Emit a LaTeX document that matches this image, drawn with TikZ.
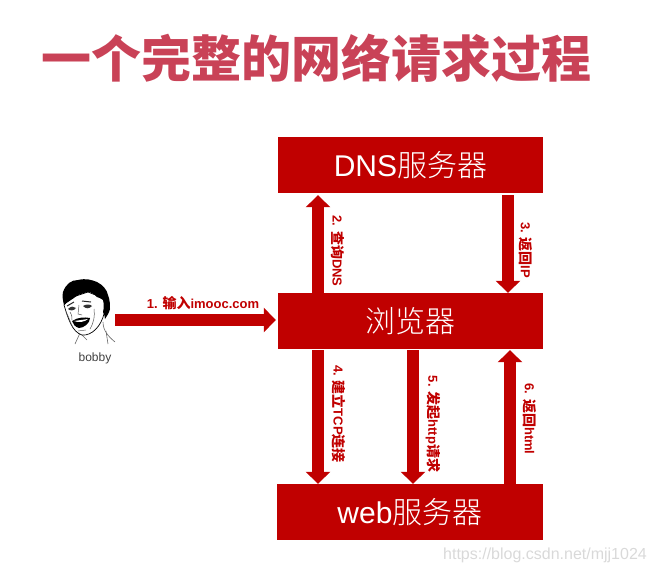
\documentclass[tikz,border=0pt]{standalone}
\usepackage{fontspec}
\usetikzlibrary{arrows.meta}
\setmainfont{Liberation Sans}
\newfontfamily\cjk{Noto Sans CJK SC Light}
\newfontfamily\cjkb{Noto Sans CJK SC Bold}
\newfontfamily\cjkh{Noto Sans CJK SC Black}
\newcommand{\zhs}[1]{{\fontsize{14}{15}\selectfont\cjkb #1}}
\definecolor{boxred}{HTML}{C00000}
\definecolor{titlered}{HTML}{C94257}
\tikzset{
  server/.style={fill=boxred,draw=none,minimum height=56pt,inner sep=0pt,text=white,font=\fontsize{30}{32}\selectfont},
  flow/.style={draw=boxred,line width=12pt,-{Triangle[width=24pt,length=12pt]}},
  steplabel/.style={text=boxred,font=\fontsize{13}{15}\selectfont\bfseries,inner sep=0pt},
  vlabel/.style={steplabel,rotate=-90},
}
\begin{document}
\begin{tikzpicture}[x=1pt,y=-1pt]
\useasboundingbox (0,0) rectangle (655,573);
\node (title) at (316,58) [text=titlered,inner sep=0pt,font=\fontsize{50}{52}\selectfont\cjkh] {一个完整的网络请求过程};
\node (dns) [server,minimum width=265pt] at (410.5,165) {DNS{\cjk 服务器}};
\node (browser) [server,minimum width=265pt] at (410.5,321) {\cjk 浏览器};
\node (web) [server,minimum width=266pt] at (410,512) {web{\cjk 服务器}};
\coordinate (bobbyout) at (115,320);
% face
\draw[black!60,line width=.6pt] (80,333) -- (75,344) (82,335) -- (87,340) (103,322) .. controls (103,331) and (109,337) .. (115,342) (106,331) -- (108,344);
\draw[black,line width=.7pt,fill=white] (64,305) .. controls (68,318) and (72,332) .. (82,335) .. controls (92,336) and (101,326) .. (104,314) -- (109,303) -- (103,298) -- (88,292) -- (70,298) -- cycle;
\fill[black] (63,292) .. controls (66,284) and (71,280) .. (78,280) .. controls (86,278) and (92,280) .. (97,282) .. controls (103,285) and (107,290) .. (108,295) .. controls (110,300) and (110,305) .. (110,309) .. controls (109,313) and (107,316) .. (105,319) .. controls (105,316) and (104,314) .. (103,312) .. controls (104,308) and (104,304) .. (103,300) .. controls (101,298) and (99,298) .. (97,297) .. controls (94,294) and (91,292) .. (88,292) .. controls (84,293) and (81,294) .. (78,295) .. controls (74,298) and (71,300) .. (68,302) .. controls (66,303) and (65,304) .. (64,305) .. controls (63,301) and (62,296) .. (63,292) -- cycle;
\draw[black!85,line width=1pt] (67,306) -- (74,302) (82,301) -- (91,302);
\fill[black!80] (68,309) .. controls (71,306) and (74,306) .. (76,308) .. controls (74,311) and (70,311) .. (68,309) -- cycle;
\fill[black!80] (83,306) .. controls (86,304) and (90,304) .. (92,306) .. controls (89,309) and (86,309) .. (83,306) -- cycle;
\draw[black!65,line width=.5pt] (66,312) .. controls (69,317) and (70,322) .. (73,328) (79,305) -- (78,314) -- (82,315) (94,309) .. controls (95,316) and (94,322) .. (90,329) (70,312) .. controls (72,315) and (72,318) .. (72,320);
\fill[black] (72,321) .. controls (78,317) and (85,317) .. (90,318) .. controls (90,323) and (84,328) .. (79,328) .. controls (75,327) and (73,324) .. (72,321) -- cycle;
\fill[white] (74,321) -- (88,319) .. controls (85,322) and (78,323) .. (74,321) -- cycle;
\draw[black!70,line width=.4pt] (78,331) -- (86,330);
\node (bobby) at (95,358) [text=black!75,inner sep=0pt,font=\fontsize{12}{14}\selectfont] {bobby};
\draw[flow] (bobbyout) -- ([xshift=-2pt]bobbyout -| browser.west);
\draw[flow] ([xshift=-92.5pt]browser.north) -- ([xshift=-92.5pt,yshift=-2pt]dns.south);
\draw[flow] ([xshift=97.5pt,yshift=-2pt]dns.south) -- ([xshift=97.5pt]browser.north);
\draw[flow] ([xshift=-92.5pt,yshift=-1pt]browser.south) -- ([xshift=-92pt]web.north);
\draw[flow] ([xshift=2.5pt,yshift=-1pt]browser.south) -- ([xshift=3pt]web.north);
\draw[flow] ([xshift=100pt]web.north) -- ([xshift=99.5pt,yshift=-1pt]browser.south);
\node (l1) at (203,303) [steplabel] {1. \zhs{输入}imooc.com};
\node (l2) at (338,251) [vlabel] {2. \zhs{查询}DNS};
\node (l3) at (526,250) [vlabel] {3. \zhs{返回}IP};
\node (l4) at (339,414) [vlabel] {4. \zhs{建立}TCP\zhs{连接}};
\node (l5) at (433,424) [vlabel] {5. \zhs{发起}http\zhs{请求}};
\node (l6) at (530,419) [vlabel] {6. \zhs{返回}html};
\node (mark) at (545,555) [text=black!15,inner sep=0pt,font=\fontsize{16}{18}\selectfont] {https://blog.csdn.net/mjj1024};
\end{tikzpicture}
\end{document}
